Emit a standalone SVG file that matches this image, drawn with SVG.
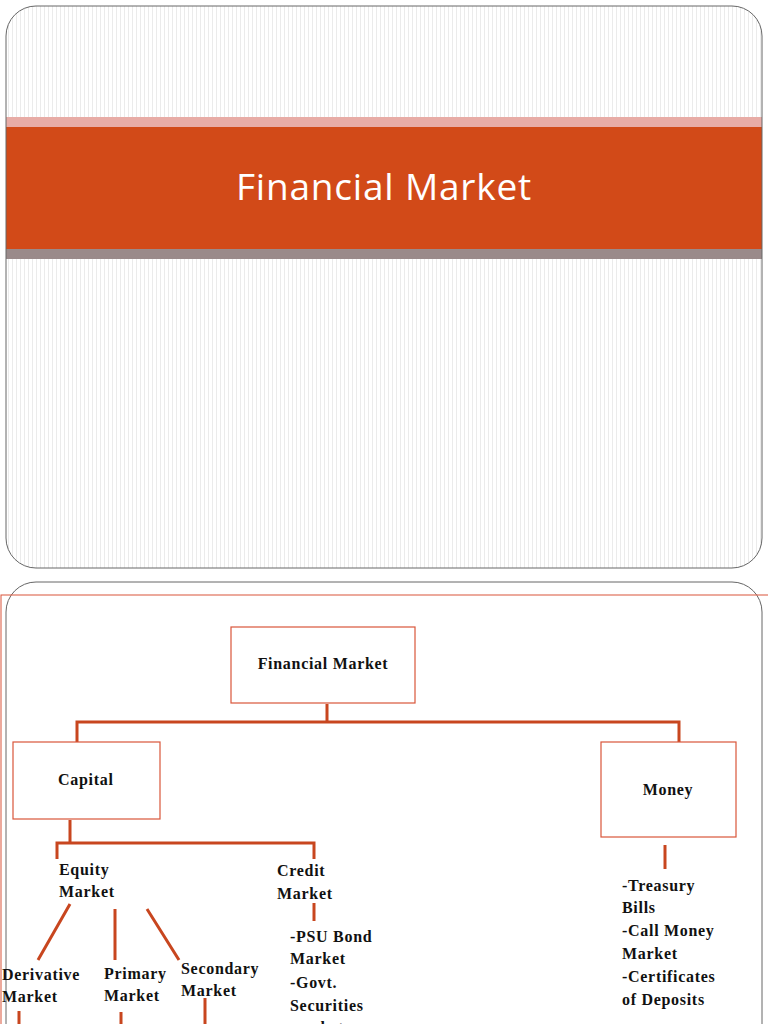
<svg xmlns="http://www.w3.org/2000/svg" width="768" height="1024" viewBox="0 0 768 1024">
<defs>
<pattern id="stripes" width="4" height="4" patternUnits="userSpaceOnUse"><rect width="4" height="4" fill="#fff"/><rect width="1" height="4" fill="#ebebeb"/></pattern>
<clipPath id="s1"><rect x="6" y="6" width="756" height="562" rx="30"/></clipPath>
</defs>
<style>
.box{fill:#fff;stroke:#d9553a;stroke-width:1.2}
.ln{stroke:#c8461f;stroke-width:3;fill:none}
.t{font-family:"Liberation Serif",serif;font-weight:bold;font-size:16px;letter-spacing:0.7px;fill:#111}
</style>
<rect width="768" height="1024" fill="#fff"/>
<g id="slide1">
<rect x="6" y="6" width="756" height="562" rx="30" fill="url(#stripes)"/>
<g clip-path="url(#s1)">
<rect x="0" y="117" width="768" height="10" fill="#e8aca6"/>
<rect x="0" y="127" width="768" height="122" fill="#d24a18"/>
<rect x="0" y="249" width="768" height="10" fill="#9a8a8a"/>
</g>
<rect x="6" y="6" width="756" height="562" rx="30" fill="none" stroke="#666" stroke-width="1"/>
<text x="384" y="200" text-anchor="middle" font-family="Open Sans,Liberation Sans,sans-serif" font-size="37" letter-spacing="0.8" fill="#fff">Financial Market</text>
</g>
<g id="slide2">
<rect x="6" y="582" width="756" height="480" rx="30" fill="#fff" stroke="#666" stroke-width="1"/>
<rect x="1" y="595" width="800" height="500" fill="none" stroke="#d9553a" stroke-width="1"/>
</g>
<g id="connectors">
<path class="ln" d="M327 704V722M77 742V722H679V742"/>
<path class="ln" d="M70 820V843M57 859V843H314V859"/>
<path class="ln" d="M314 903V921"/>
<path class="ln" d="M665 845V869"/>
<path class="ln" d="M70 904L38 960M115 909V960M147 909L179 960"/>
<path class="ln" d="M19 1011V1024M121 1012V1024M205 998V1024"/>
</g>
<g id="n-fm"><rect class="box" x="231" y="627" width="184" height="76"/><text class="t" x="323" y="669" text-anchor="middle">Financial Market</text></g>
<g id="n-capital"><rect class="box" x="13" y="742" width="147" height="77"/><text class="t" x="58" y="785">Capital</text></g>
<g id="n-money"><rect class="box" x="601" y="742" width="135" height="95"/><text class="t" x="668" y="795" text-anchor="middle">Money</text></g>
<g id="n-equity"><text class="t" x="59" y="875">Equity</text><text class="t" x="59" y="897">Market</text></g>
<g id="n-credit"><text class="t" x="277" y="876">Credit</text><text class="t" x="277" y="899">Market</text></g>
<g id="n-credit-list"><text class="t" x="290" y="942">-PSU Bond</text><text class="t" x="290" y="964">Market</text><text class="t" x="290" y="988">-Govt.</text><text class="t" x="290" y="1011">Securities</text><text class="t" x="290" y="1033">market</text></g>
<g id="n-money-list"><text class="t" x="622" y="891">-Treasury</text><text class="t" x="622" y="913">Bills</text><text class="t" x="622" y="936">-Call Money</text><text class="t" x="622" y="959">Market</text><text class="t" x="622" y="982">-Certificates</text><text class="t" x="622" y="1005">of Deposits</text></g>
<g id="n-deriv"><text class="t" x="2" y="980">Derivative</text><text class="t" x="2" y="1002">Market</text></g>
<g id="n-primary"><text class="t" x="104" y="979">Primary</text><text class="t" x="104" y="1001">Market</text></g>
<g id="n-secondary"><text class="t" x="181" y="974">Secondary</text><text class="t" x="181" y="996">Market</text></g>
</svg>
